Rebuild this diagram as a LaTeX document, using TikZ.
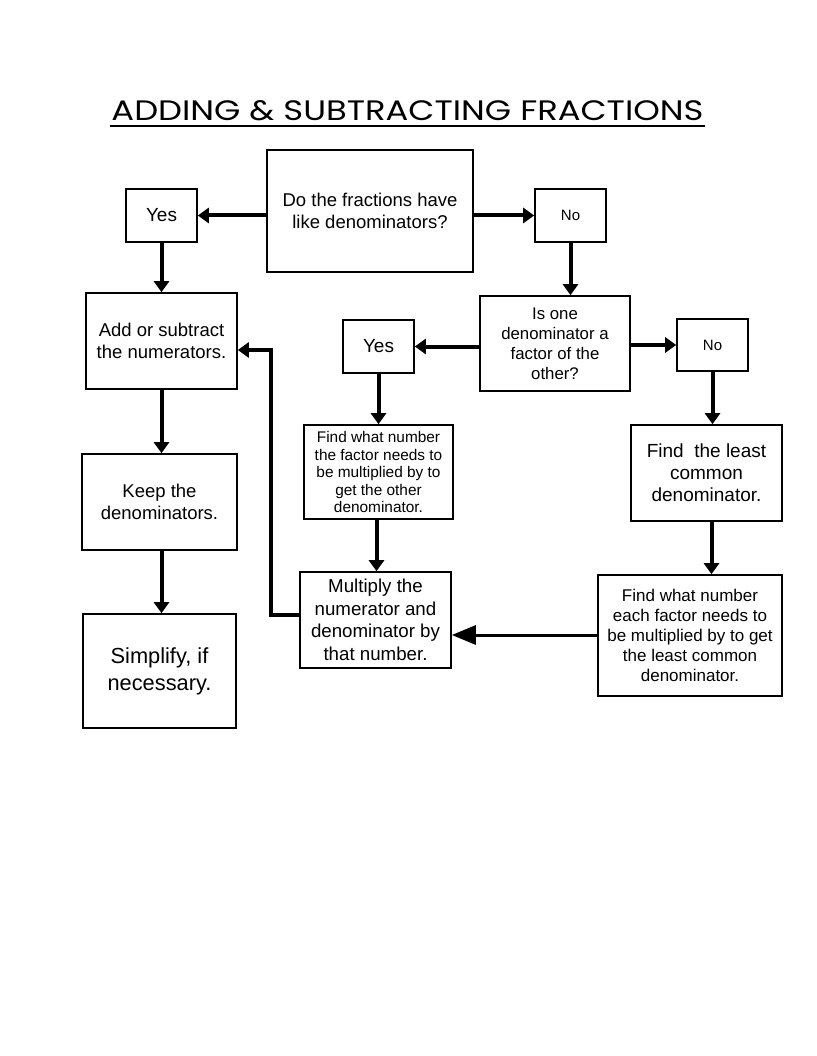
\documentclass[tikz,border=0pt]{standalone}
\usepackage{fontspec}
\setmainfont{Liberation Sans}
\newfontfamily\titlefont{Poppins}
\usetikzlibrary{arrows.meta}
\begin{document}
\begin{tikzpicture}[x=1pt,y=-1pt,
  box/.style={draw, line width=1.6pt, align=center, inner sep=0pt},
  arr/.style={line width=4pt, -{Triangle[length=11pt,width=15pt]}},
  bigarr/.style={line width=3pt, -{Triangle[length=24pt,width=19pt]}},
  fA/.style={font=\fontsize{18.5}{22.5}\selectfont},
  fY/.style={font=\fontsize{19}{22}\selectfont},
  fB/.style={font=\fontsize{15}{17}\selectfont},
  fF/.style={font=\fontsize{15.4}{17.5}\selectfont},
  fC/.style={font=\fontsize{16.8}{20}\selectfont}]
\useasboundingbox (0,0) rectangle (816,1056);
\fill[white] (0,0) rectangle (816,1056);
% title
\node[font=\titlefont, inner sep=0pt] (title) at (407.5,111) {\resizebox{592pt}{20pt}{ADDING \& SUBTRACTING FRACTIONS}};
\draw[line width=1.6pt] (110,126) -- (705,126);
% boxes
\node[box,fA,minimum width=206pt,minimum height=122pt] (q1) at (370,211) {Do the fractions have\\like denominators?};
\node[box,fY,minimum width=71pt,minimum height=53pt] (yes1) at (161.5,215.5) {Yes};
\node[box,fB,minimum width=71pt,minimum height=53pt] (no1) at (570.5,215.5) {No};
\node[box,fA,minimum width=151pt,minimum height=96pt] (add) at (161.5,341) {Add or subtract\\the numerators.};
\node[box,fC,minimum width=150pt,minimum height=95pt] (q2) at (555,343.5) {Is one\\denominator a\\factor of the\\other?};
\node[box,fY,minimum width=71pt,minimum height=53pt] (yes2) at (378.5,346.5) {Yes};
\node[box,fB,minimum width=71pt,minimum height=52pt] (no2) at (712.5,345) {No};
\node[box,fF,minimum width=149pt,minimum height=94pt] (find1) at (378.5,472) {Find what number\\the factor needs to\\be multiplied by to\\get the other\\denominator.};
\node[box,font=\fontsize{19}{22}\selectfont,minimum width=151pt,minimum height=96pt] (lcd) at (706.5,473) {Find\ \ the least\\common\\denominator.};
\node[box,fA,minimum width=155pt,minimum height=96pt] (keep) at (159.5,502) {Keep the\\denominators.};
\node[box,font=\fontsize{18.7}{22.6}\selectfont,minimum width=151pt,minimum height=96pt] (mult) at (375.5,620) {Multiply the\\numerator and\\denominator by\\that number.};
\node[box,font=\fontsize{17}{20}\selectfont,minimum width=184pt,minimum height=121pt] (find2) at (690,635.5) {Find what number\\each factor needs to\\be multiplied by to get\\the least common\\denominator.};
\node[box,font=\fontsize{21.8}{27}\selectfont,minimum width=153pt,minimum height=114pt] (simp) at (159.5,671) {Simplify, if\\necessary.};
% connectors
\draw[arr] (q1.west |- yes1.east) -- (yes1.east);
\draw[arr] (q1.east |- no1.west) -- (no1.west);
\draw[arr] (yes1.south) -- (add.north);
\draw[arr] (no1.south) -- (no1.south |- q2.north);
\draw[arr] (q2.west |- yes2.east) -- (yes2.east);
\draw[arr] (q2.east |- no2.west) -- (no2.west);
\draw[arr] (yes2.south) -- (yes2.south |- find1.north);
\draw[arr] (no2.south) -- (no2.south |- lcd.north);
\draw[arr] ([xshift=-2pt]find1.south) -- ([xshift=-2pt]find1.south |- mult.north);
\draw[arr] ([xshift=5pt]lcd.south) -- ([xshift=5pt]lcd.south |- find2.north);
\draw[bigarr] (find2.west |- 0,635) -- (mult.east |- 0,635);
\draw[arr] ([yshift=5pt]mult.west) -- ++(-28,0) |- ([yshift=-9pt]add.east);
\draw[arr] (add.south) -- (add.south |- keep.north);
\draw[arr] ([xshift=2pt]keep.south) -- ([xshift=2pt]keep.south |- simp.north);
\end{tikzpicture}
\end{document}
